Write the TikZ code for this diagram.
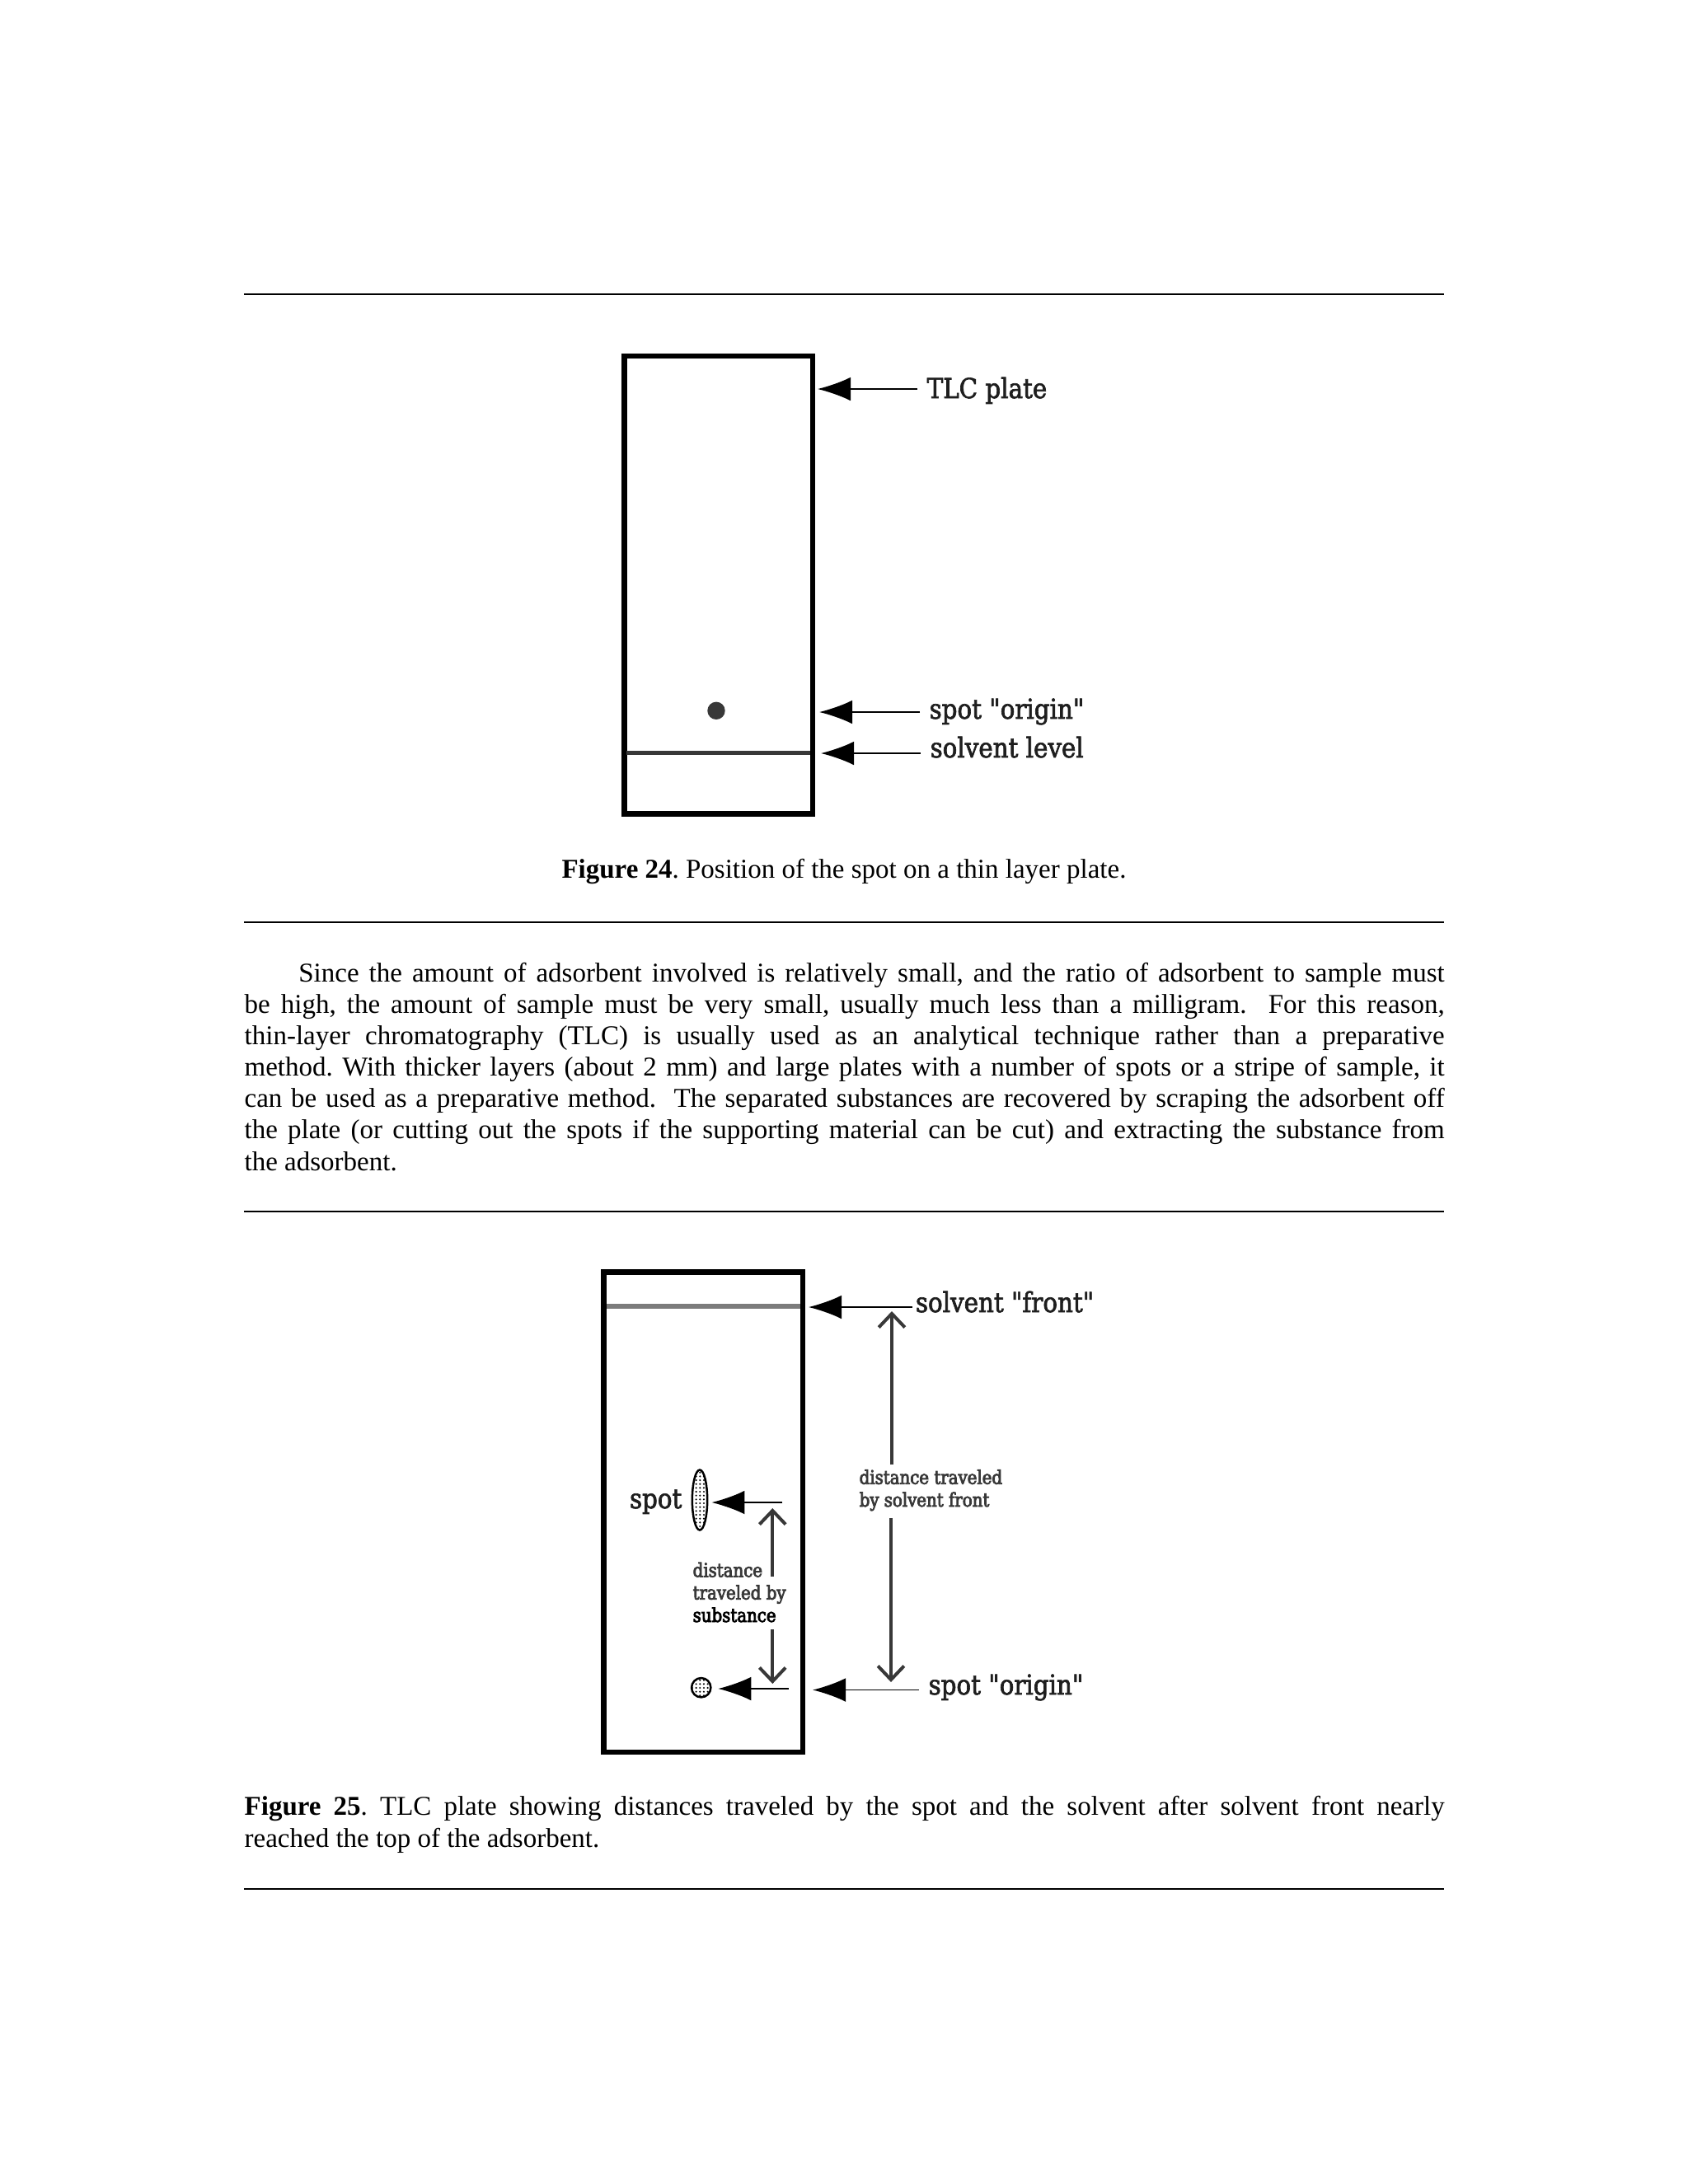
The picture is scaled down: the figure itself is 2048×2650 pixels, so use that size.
\documentclass[tikz,border=0pt]{standalone}
\usepackage{fontspec}
\setmainfont{Liberation Serif}
\newfontfamily\platefont[FakeStretch=0.88, FakeBold=2]{DejaVu Serif}
\newfontfamily\tagfont[FakeStretch=0.86, FakeBold=3.5]{DejaVu Serif}
\usetikzlibrary{positioning, arrows.meta, patterns.meta, shapes.geometric}

\definecolor{inkdark}{HTML}{1E1E1E}
\definecolor{inkgray}{HTML}{383838}
\definecolor{frontgray}{HTML}{7C7C7C}

\newcommand{\jline}[2][436.8pt]{\makebox[#1][s]{#2}}

\tikzset{
  rulel/.style={line width=0.6pt},
  plate/.style={line width=1.95pt},
  callout/.style={-{Latex[length=12pt,width=8.6pt]}, line width=0.55pt},
  dimline/.style={draw=inkgray, line width=1.2pt, -{Straight Barb[length=5pt,width=9.5pt]}},
  bigtag/.style={font=\platefont\fontsize{10pt}{12pt}\selectfont, text=inkdark, anchor=base west, inner xsep=3.3pt, inner ysep=0pt},
  smalltag/.style={font=\tagfont\fontsize{6.9pt}{8.2pt}\selectfont, text=inkgray, align=left, anchor=base west, inner sep=0pt},
  bodytext/.style={font=\fontsize{9.9pt}{11.43pt}\selectfont\frenchspacing, align=left, anchor=base west, inner sep=0pt},
  stipple/.style={draw=black, line width=0.75pt, pattern={Dots[distance=1.4pt, radius=0.35pt]}},
}

\begin{document}
\begin{tikzpicture}[x=0.3pt, y=-0.3pt]
\useasboundingbox (0,0) rectangle (2048,2650);

% horizontal rules
\draw[rulel] (296,356.7) -- (1752,356.7);
\draw[rulel] (296,1119) -- (1752,1119);
\draw[rulel] (296,1470) -- (1752,1470);
\draw[rulel] (296,2292) -- (1752,2292);

% Figure 24
\draw[plate] (757.5,432) rectangle (986,987.5);
\draw[inkgray, line width=1.3pt] (760,913.5) -- (983,913.5);
\fill[inkgray] (869,862.3) circle (10.7);

\coordinate (tlctip) at (992,472);
\coordinate (origtip) at (994,864);
\coordinate (levtip) at (996,914);
\node[bigtag] (tlc) at (1113,483) {TLC plate};
\node[bigtag] (orig) at (1116,872) {spot "origin"};
\node[bigtag] (lev) at (1117,919) {solvent level};
\draw[callout] (tlc.west |- tlctip) -- (tlctip);
\draw[callout] (orig.west |- origtip) -- (origtip);
\draw[callout] (lev.west |- levtip) -- (levtip);

\node[bodytext, anchor=base] (cap24) at (1024,1065) {\textbf{Figure 24}. Position of the spot on a thin layer plate.};

% paragraph (base = last line)
\node[bodytext] (para) at (296,1420) {%
\hspace*{19.7pt}\jline[417.1pt]{Since the amount of adsorbent involved is relatively small, and the ratio of adsorbent to sample must}\\
\jline{be high, the amount of sample must be very small, usually much less than a milligram.\ \ For this reason,}\\
\jline{thin-layer chromatography (TLC) is usually used as an analytical technique rather than a preparative}\\
\jline{method. With thicker layers (about 2 mm) and large plates with a number of spots or a stripe of sample, it}\\
\jline{can be used as a preparative method.\ \ The separated substances are recovered by scraping the adsorbent off}\\
\jline{the plate (or cutting out the spots if the supporting material can be cut) and extracting the substance from}\\
the adsorbent.};

% Figure 25
\draw[plate] (732.7,1543.7) rectangle (974,2126);
\draw[frontgray, line width=1.6pt] (736,1585) -- (971,1585);

\coordinate (fronttip) at (981,1586);
\node[bigtag, inner xsep=1pt] (front) at (1107,1592) {solvent "front"};
\draw[callout] (front.west |- fronttip) -- (fronttip);

\coordinate (origtipB) at (986,2050.5);
\node[bigtag] (origB) at (1115,2056) {spot "origin"};
\draw[callout] (origB.west |- origtipB) -- (origtipB);

% distance of the solvent front
\coordinate (solvtop) at (1082,1591);
\coordinate (solvup) at (1082,1777);
\coordinate (solvdown) at (1081,1842);
\coordinate (solvbot) at (1081,2041);
\node[smalltag] (solvtag) at (1042,1828) {distance traveled\\by solvent front};
\draw[dimline] (solvup) -- (solvtop);
\draw[dimline] (solvdown) -- (solvbot);

% spot and origin on the plate
\node[stipple, ellipse, inner sep=0pt, minimum width=5.5pt, minimum height=21.9pt] (spotB) at (849,1820) {};
\node[bigtag, anchor=base east, inner xsep=0pt] (spottag) at (828,1830) {spot};
\coordinate (spotend) at (949.3,1823);
\draw[callout, shorten >=1.2pt] (spotend) -- (spotB.east |- spotend);

\node[stipple, circle, inner sep=0pt, minimum size=7pt] (origspot) at (850.7,2047.7) {};
\coordinate (origend) at (956.7,2049);
\draw[callout, shorten >=2.3pt] (origend) -- (origspot.east |- origend);

% distance of the substance
\coordinate (subtop) at (937.3,1830);
\coordinate (subup) at (937.3,1913);
\coordinate (subdown) at (937.3,1977);
\coordinate (subbot) at (937.3,2043);
\node[smalltag] (subtag) at (840,1968) {distance\\traveled by\\\textcolor{black}{substance}};
\draw[dimline] (subup) -- (subtop);
\draw[dimline] (subdown) -- (subbot);

\node[bodytext] (cap25) at (296,2241) {%
\jline{\textbf{Figure 25}. TLC plate showing distances traveled by the spot and the solvent after solvent front nearly}\\
reached the top of the adsorbent.};
\end{tikzpicture}
\end{document}
